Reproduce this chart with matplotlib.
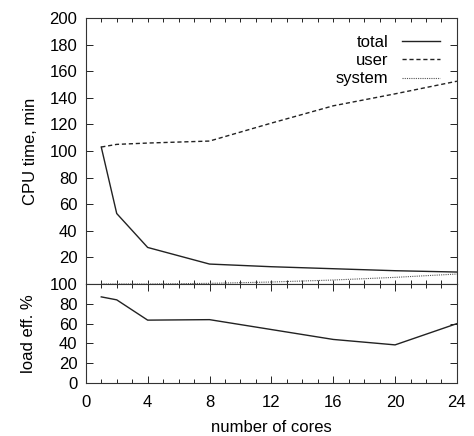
import matplotlib.pyplot as plt
from matplotlib.ticker import MultipleLocator

plt.rcParams['font.family'] = ['Liberation Sans', 'DejaVu Sans']
plt.rcParams['font.size'] = 12

cores = [1, 2, 4, 8, 12, 16, 20, 24]
total = [103, 53, 27.5, 15, 13, 11.5, 10, 9]
user = [103, 105, 106, 107.5, 121, 134, 143, 152.5]
system = [0, 0, 0, 0.5, 1.5, 3, 5, 7.5]
load_eff = [87, 84, 63.5, 64, 54, 44, 38.5, 60]

fig = plt.figure(figsize=(4.74, 4.36), dpi=100)
ax1 = fig.add_axes([0.181, 0.3486, 0.783, 0.610])
ax2 = fig.add_axes([0.181, 0.1216, 0.783, 0.227])

ax1.plot(cores, total, color='#222222', lw=1, label='total')
ax1.plot(cores, user, color='#222222', lw=1, ls=(0, (3, 2)), label='user')
ax1.plot(cores, system, color='#555555', lw=0.8, ls=(0, (1, 1)), label='system')
ax1.set_xlim(0, 24)
ax1.set_ylim(0, 200)
ax1.set_yticks(range(20, 201, 20))
ax1.xaxis.set_major_locator(MultipleLocator(4))
ax1.xaxis.set_minor_locator(MultipleLocator(1))
ax1.tick_params(labelbottom=False)
ax1.set_ylabel('CPU time, min', labelpad=8)
ax1.legend(loc='upper right', frameon=False, markerfirst=False,
           handlelength=2.3, labelspacing=0.2, borderaxespad=0.6)

ax2.plot(cores, load_eff, color='#222222', lw=1)
ax2.set_xlim(0, 24)
ax2.set_ylim(0, 100)
ax2.set_yticks(range(0, 101, 20))
ax2.xaxis.set_major_locator(MultipleLocator(4))
ax2.xaxis.set_minor_locator(MultipleLocator(1))
ax2.set_ylabel('load eff. %', labelpad=10)
ax2.set_xlabel('number of cores', labelpad=7)

for ax in (ax1, ax2):
    ax.tick_params(which='both', direction='in', top=True, right=True, width=0.6)
    ax.tick_params(which='major', length=5, pad=6)
    ax.tick_params(which='minor', length=3)
    for s in ax.spines.values():
        s.set_linewidth(0.8)
        s.set_color('#333333')
ax1.tick_params(axis='x', which='major', length=3)
ax2.tick_params(axis='x', which='major', pad=9)

fig.savefig('out.png', dpi=100)
